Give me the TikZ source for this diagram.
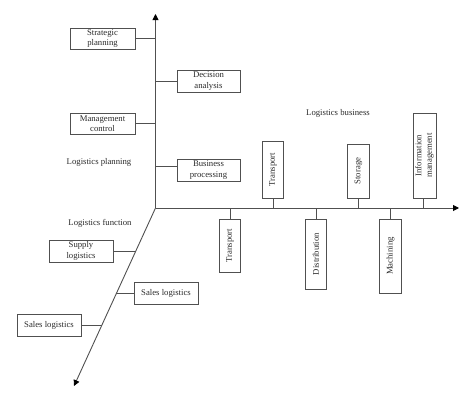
\documentclass[tikz,border=0pt]{standalone}
\usepackage{fontspec}
\setmainfont{Liberation Serif}
\usetikzlibrary{arrows.meta,calc}
\definecolor{ln}{HTML}{505050}
\definecolor{tx}{HTML}{2a2a2a}
\begin{document}
\begin{tikzpicture}[x=1pt,y=-1pt,
  box/.style={draw=ln,line width=0.9pt,inner sep=1pt,align=center,text=tx,
    font=\fontsize{8.7}{10.5}\selectfont,minimum width=#1},
  vbox/.style={box=#1,rotate=90,minimum height=21.5pt},
  lbl/.style={text=tx,font=\fontsize{8.7}{10.5}\selectfont},
  axis/.style={draw=ln,line width=0.9pt,-{Triangle[length=6pt,width=6pt,color=black]}},
  conn/.style={draw=ln,line width=0.9pt}]
\useasboundingbox (0,0) rectangle (474,402);
% axes
\coordinate (O) at (155.5,208);
\coordinate (top) at (155.5,14);
\coordinate (right) at (459,208);
\coordinate (tip) at (74,386);
\draw[axis] (O) -- (top);
\draw[axis] (O) -- (right);
\draw[axis] (O) -- (tip);
% planning boxes
\node[box=65pt,minimum height=21pt] (sp) at (102.5,38.5) {Strategic\\planning};
\node[box=63pt,minimum height=22pt] (da) at (208.5,81) {Decision\\analysis};
\node[box=65pt,minimum height=21pt] (mc) at (102.5,123.5) {Management\\control};
\node[box=63pt,minimum height=22pt] (bp) at (208.5,170) {Business\\processing};
\coordinate (a1) at (155.5,38.5);
\coordinate (a2) at (155.5,81);
\coordinate (a3) at (155.5,123.5);
\coordinate (a4) at (155.5,166);
\draw[conn] (sp.east) -- (a1);
\draw[conn] (a2) -- (da.west);
\draw[conn] (mc.east) -- (a3);
\draw[conn] (a4) -- (a4 -| bp.west);
\node[lbl] (lp) at (99,162) {Logistics planning};
% business boxes
\node[vbox=57pt] (t1) at (273,169.5) {Transport};
\node[vbox=54pt] (st) at (358.5,171) {Storage};
\node[vbox=85pt,minimum height=23pt] (im) at (424.5,155.5) {Information\\management};
\node[vbox=53pt] (t2) at (230,245.5) {Transport};
\node[vbox=70pt] (di) at (316,254) {Distribution};
\node[vbox=74pt] (ma) at (390.5,256) {Machining};
\coordinate (b1) at (273,208);
\coordinate (b2) at (358.5,208);
\coordinate (b3) at (423,208);
\coordinate (b4) at (230,208);
\coordinate (b5) at (316,208);
\coordinate (b6) at (390.5,208);
\draw[conn] (t1.west) -- (b1);
\draw[conn] (st.west) -- (b2);
\draw[conn] (b3 |- im.west) -- (b3);
\draw[conn] (t2.east) -- (b4);
\draw[conn] (di.east) -- (b5);
\draw[conn] (ma.east) -- (b6);
\node[lbl] (lb) at (338,113) {Logistics business};
% function boxes
\node[box=64pt,minimum height=22pt] (su) at (81,251) {Supply\\logistics};
\node[box=64pt,minimum height=22pt] (sr) at (166,293) {Sales logistics};
\node[box=64pt,minimum height=22pt] (sl) at (49,325) {Sales logistics};
\coordinate (c1) at ($(O)!0.243!(tip)$);
\coordinate (c2) at ($(O)!0.480!(tip)$);
\coordinate (c3) at ($(O)!0.658!(tip)$);
\draw[conn] (su.east |- c1) -- (c1);
\draw[conn] (c2) -- (sr.west |- c2);
\draw[conn] (sl.east |- c3) -- (c3);
\node[lbl] (lf) at (100,223) {Logistics function};
\end{tikzpicture}
\end{document}
